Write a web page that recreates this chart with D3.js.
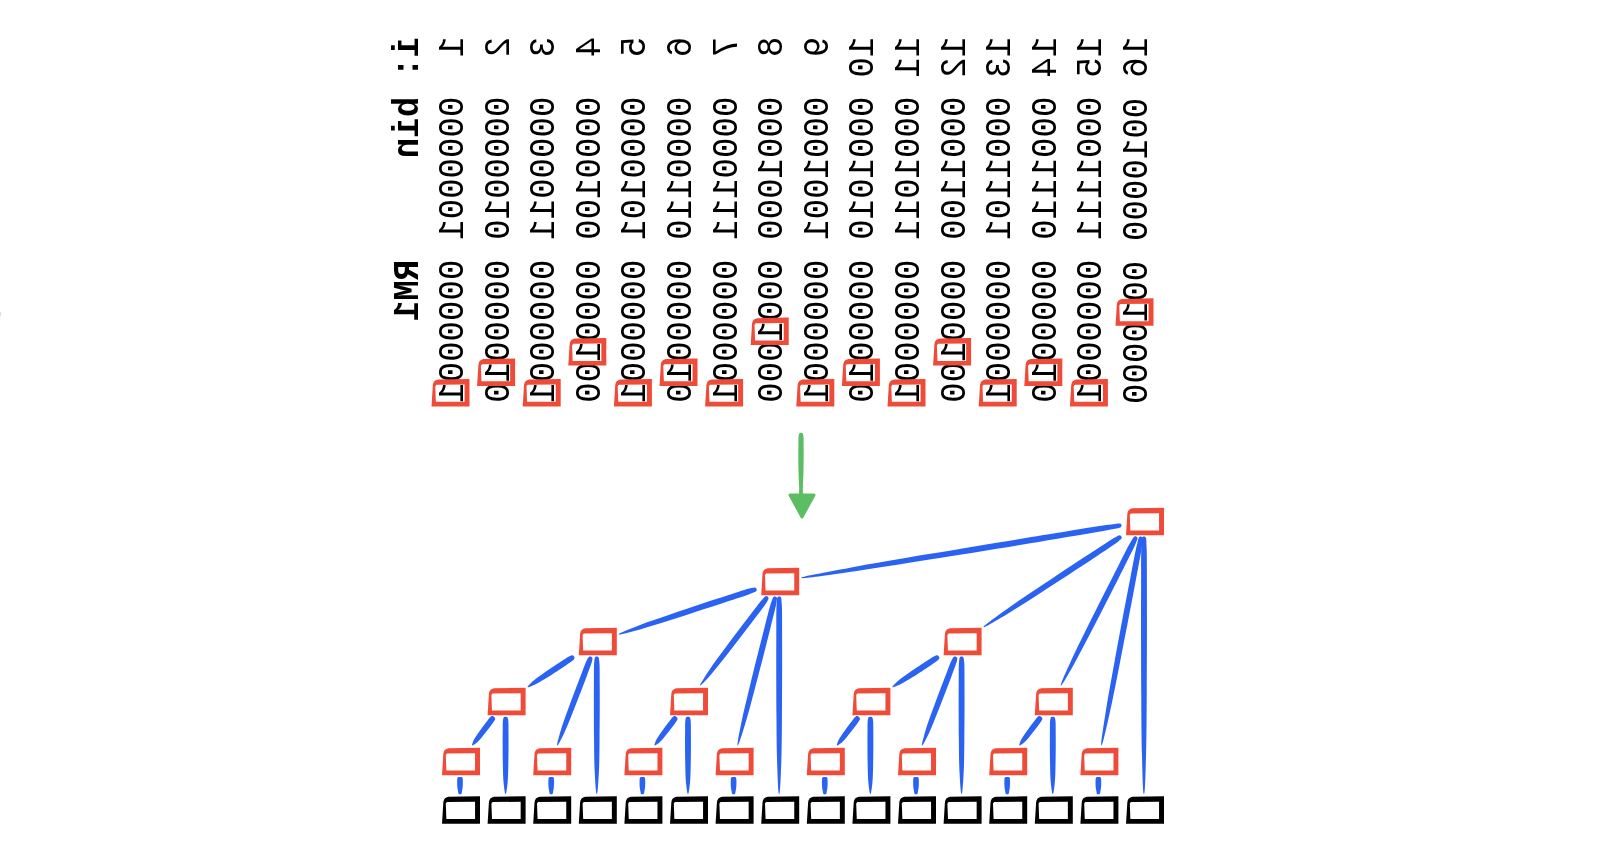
<!DOCTYPE html>
<html>
<head>
<meta charset="utf-8">
<title>Fenwick tree</title>
<script src="https://d3js.org/d3.v7.min.js"></script>
<style>
  html, body { margin: 0; background: #fff; }
  svg { display: block; filter: blur(0.4px); }
  text { font-family: "Liberation Mono", monospace; fill: #000; }
</style>
</head>
<body>
<svg id="chart" width="1600" height="860"></svg>
<script>
const headers = ["i:", "bin", "RM1"];
const indexLabels = ["1", "2", "3", "4", "5", "6", "7", "8", "9", "10", "11", "12", "13", "14", "15", "16"];
const binLabels = ["0000001", "0000010", "0000011", "0000100", "0000101", "0000110", "0000111", "0001000",
  "0001001", "0001010", "0001011", "0001100", "0001101", "0001110", "0001111", "0010000"];
const rm1Labels = ["0000001", "0000010", "0000001", "0000100", "0000001", "0000010", "0000001", "0001000",
  "0000001", "0000010", "0000001", "0000100", "0000001", "0000010", "0000001", "0010000"];
// parent of each red node in the tree, by index
const parents = [2, 4, 4, 8, 6, 8, 8, 16, 10, 12, 12, 16, 14, 16, 16, null];

const RED = "#ef4b39", BLUE = "#2a63f2", GREEN = "#5cbd62";
const svg = d3.select("#chart");

const rowX = d3.scaleLinear().domain([1, 16]).range([450.5, 1134.5]);
const nodeX = d3.scaleLinear().domain([1, 16]).range([461, 1145]);
const levelY = d3.scaleLinear().domain([0, 4]).range([761.5, 521.5]);
const leafY = 810;

const FONT = 34, ADVANCE = 20.47, GLYPH_STRETCH = 1.1;
const digitY = start => start + ADVANCE / 2;

// text is transposed: characters run downwards, lines run to the right
function tableText(str, baseX, startY, bold) {
  svg.append("text")
    .attr("transform", `matrix(0 1 ${GLYPH_STRETCH} 0 ${baseX} ${startY})`)
    .attr("font-size", FONT)
    .attr("font-weight", bold ? "bold" : null)
    .attr("textLength", ADVANCE * str.length)
    .text(str);
}

const COL_I = 36.8, COL_BIN = 96.7, COL_RM1 = 259.7;

tableText(headers[0], 418, COL_I, true);
tableText(headers[1], 418, COL_BIN, true);
tableText(headers[2], 418, COL_RM1, true);

indexLabels.forEach((d, k) => {
  const nudge = k === 15 ? 1.2 : 0;
  const base = rowX(k + 1) + 12.5;
  tableText(d, base, COL_I);
  tableText(binLabels[k], base, COL_BIN + nudge);
  tableText(rm1Labels[k], base, COL_RM1 + nudge);
});

// hand drawn box, thin and rounded at the top left corner
function boxPath(w, h) {
  return `M0,${h} L${w * 0.035},${h * 0.22} Q${w * 0.045},${h * 0.05} ${w * 0.17},${h * 0.02} L${w},0 L${w},${h} Z` +
    `M${w * 0.1},${h * 0.26} L${w * 0.13},${h * 0.21} L${w * 0.87},${h * 0.2} L${w * 0.87},${h * 0.83} L${w * 0.115},${h * 0.83} Z`;
}

function drawBox(cx, cy, color) {
  const w = 38, h = 27.5;
  svg.append("path")
    .attr("transform", `translate(${cx - w / 2},${cy - h / 2})`)
    .attr("d", boxPath(w, h))
    .attr("fill", color)
    .attr("fill-rule", "evenodd");
}

// tapered brush stroke from a to b, widest near a
const brushLine = d3.line().curve(d3.curveCatmullRomClosed);

function brush(a, b, halfWidth, color, tip) {
  const profile = [[0, 0.5], [0.03, 0.85], [0.2, 1], [0.6, 0.95], [0.85, 0.7], [1, tip]];
  const dx = b[0] - a[0], dy = b[1] - a[1];
  const len = Math.hypot(dx, dy);
  const nx = -dy / len, ny = dx / len;
  const side = s => p => [a[0] + dx * p[0] + s * nx * halfWidth * p[1], a[1] + dy * p[0] + s * ny * halfWidth * p[1]];
  const pts = profile.map(side(1)).concat(profile.slice().reverse().map(side(-1)));
  svg.append("path").attr("d", brushLine(pts)).attr("fill", color);
}

// point where the centre line from p leaves the rectangle around p
function clipTo(p, q, hx, hy) {
  const dx = q[0] - p[0], dy = q[1] - p[1];
  const t = Math.min(dx ? hx / Math.abs(dx) : Infinity, dy ? hy / Math.abs(dy) : Infinity);
  return [p[0] + dx * t, p[1] + dy * t];
}

function link(from, to, color) {
  const a = clipTo(from, to, 23, 15.5);
  const b = clipTo(to, from, 22, 16);
  const short = Math.hypot(b[0] - a[0], b[1] - a[1]) < 30;
  brush([a[0] - 1, a[1]], [b[0] - 1, b[1]], short ? 2.8 : 2.9, color, short ? 0.45 : 0.05);
}

const levels = rm1Labels.map(s => 6 - s.lastIndexOf("1"));
const nodeAt = k => [nodeX(k + 1), levelY(levels[k])];

// links first, the boxes sit on top
parents.forEach((p, k) => {
  if (p !== null) link(nodeAt(p - 1), nodeAt(k), BLUE);
  link(nodeAt(k), [nodeX(k + 1), leafY], BLUE);
});

indexLabels.forEach((d, k) => {
  drawBox(nodeX(k + 1), leafY, "#000");
  drawBox(nodeAt(k)[0], nodeAt(k)[1], RED);
  // box around the lowest set bit in the table
  const bit = rm1Labels[k].lastIndexOf("1");
  drawBox(rowX(k + 1), digitY(COL_RM1 + (k === 15 ? 1.2 : 0) + bit * ADVANCE), RED);
});

// green arrow between the table and the tree
brush([801, 433], [801, 498], 2.6, GREEN, 0.6);
svg.append("path")
  .attr("d", d3.line()([[790, 495], [814, 495], [802, 517]]) + "Z")
  .attr("fill", GREEN)
  .attr("stroke", GREEN)
  .attr("stroke-width", 3)
  .attr("stroke-linejoin", "round");

// stray mark on the left edge of the picture
svg.append("rect").attr("x", 0).attr("y", 312).attr("width", 1).attr("height", 4).attr("fill", "#dcd8f8");
</script>
</body>
</html>
